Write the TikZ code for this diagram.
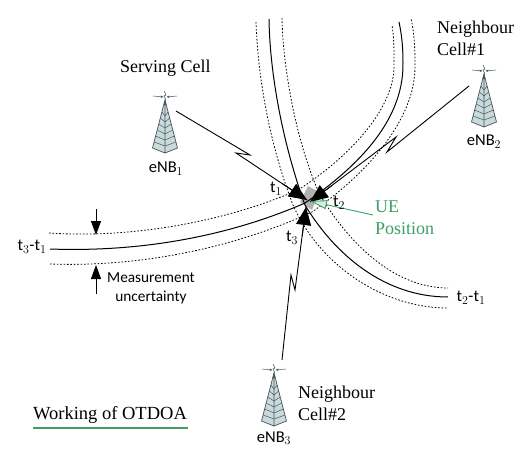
\documentclass[tikz,border=0pt]{standalone}
\usepackage{fontspec}
\setmainfont{Liberation Serif}
\newfontfamily\labelfont{Carlito}
\usetikzlibrary{arrows.meta,calc}
\definecolor{uegreen}{HTML}{3E9E66}
\definecolor{towerfill}{HTML}{C9DADD}
\definecolor{towerline}{HTML}{4A5558}
\tikzset{
  solidcurve/.style={line width=1pt,black},
  dotcurve/.style={line width=0.8pt,black,dash pattern=on 1.6pt off 1.8pt},
  link/.style={line width=0.9pt,black},
  wedge/.style={-{Triangle[length=18pt,width=15pt]}},
  serif/.style={inner sep=0pt,font=\fontsize{18}{22}\selectfont,align=left,anchor=west},
  sans/.style={inner sep=0pt,font=\labelfont\fontsize{16.5}{19}\selectfont},
  small/.style={inner sep=0pt,font=\labelfont\fontsize{15.3}{19}\selectfont,align=center},
  tower/.pic={
    \fill[towerfill] (0,0) -- (-12.5,48) -- (0,53) -- (12.5,48) -- cycle;
    \foreach \d in {12,18,24,30,36,42}{
      \draw[towerline,line width=0.5pt] ({-12.5*\d/48},\d) -- (0,\d+4) -- ({12.5*\d/48},\d);
    }
    \draw[towerline,line width=0.7pt] (0,0) -- (-12.5,48) -- (0,53) -- (12.5,48) -- cycle (0,4) -- (0,53);
    \fill[towerline] (-1.5,5) -- (0,-1) -- (1.5,5) -- cycle;
    \draw[towerline,line width=0.5pt] (-1,-9) -- (1,-5) -- (-1,-4) -- (1,0);
    \draw[towerline,line width=0.5pt,-{Stealth[length=3pt,width=2.5pt]}] (-12,-4) -- (-1.5,-3);
    \draw[towerline,line width=0.5pt,-{Stealth[length=3pt,width=2.5pt]}] (12,-4) -- (1.5,-3);
  }
}
\begin{document}
\begin{tikzpicture}[x=1pt,y=-1pt]
\useasboundingbox (0,0) rectangle (528,452);
% gray UE area
\fill[black!30!white] (308,186) -- (319,192) -- (312,210) -- (300,202) -- cycle;
% hyperbola t3-t1
\draw[solidcurve] (50,249) .. controls (130,252) and (220,240) .. (305,203)
  .. controls (350,172) and (404,125) .. (403,63) .. controls (403,48) and (402,36) .. (399,22);
\draw[dotcurve] (49,233) .. controls (120,238) and (215,226) .. (298,190)
  .. controls (345,160) and (396,110) .. (394,63) .. controls (394,48) and (394,38) .. (392,25);
\draw[dotcurve] (50,264) .. controls (130,267) and (225,252) .. (312,212)
  .. controls (365,175) and (417,120) .. (415,63) .. controls (415,46) and (414,32) .. (411,18);
% hyperbola t2-t1
\draw[solidcurve] (269,19) .. controls (270,80) and (285,150) .. (305,205)
  .. controls (335,255) and (385,297) .. (448,297);
\draw[dotcurve] (256,22) .. controls (258,80) and (270,145) .. (293,205)
  .. controls (318,262) and (380,308) .. (448,308);
\draw[dotcurve] (282,18) .. controls (283,70) and (297,145) .. (320,195)
  .. controls (350,245) and (395,288) .. (448,288);
% towers
\pic at (165,100) {tower};
\pic at (484,74) {tower};
\pic at (274,373) {tower};
% anchors
\coordinate (s1) at (176,111);
\coordinate (s1a) at (250,155);
\coordinate (s1b) at (236,153);
\coordinate (ue1) at (307,200);
\coordinate (s2) at (469,86);
\coordinate (s2a) at (387,152);
\coordinate (s2b) at (396,137);
\coordinate (ue2) at (310,202);
\coordinate (s3) at (282,360);
\coordinate (s3a) at (295,290);
\coordinate (s3b) at (291,275);
\coordinate (ue3) at (306,207);
\draw[link] (s1) -- (s1a) -- (s1b) -- (ue1);
\draw[link] (s2) -- (s2a) -- (s2b) -- (ue2);
\draw[link] (s3) -- (s3b) -- (s3a) -- (ue3);
\draw[link,wedge] ($(ue1)!0.35!(s1b)$) -- (ue1);
\draw[link,wedge] ($(ue2)!0.25!(s2b)$) -- (ue2);
\draw[link,wedge] ($(ue3)!0.35!(s3a)$) -- (ue3);
% green pointer
\coordinate (ueg) at (373,215);
\coordinate (uep) at (310,201);
\draw[uegreen,line width=0.9pt,-{Triangle[open,fill=uegreen!20,length=17pt,width=9pt]}] (ueg) -- (uep);
% measurement arrows
\coordinate (md0) at (96,209);
\coordinate (md1) at (96,235);
\coordinate (mu0) at (96,294);
\coordinate (mu1) at (96,265);
\draw[link,-{Triangle[length=14pt,width=10pt]}] (md0) -- (md1);
\draw[link,-{Triangle[length=14pt,width=10pt]}] (mu0) -- (mu1);
% texts
\node[serif] (serving) at (120,68) {Serving Cell};
\node[serif] (n1) at (437,38) {Neighbour\\Cell\#1};
\node[serif] (n2) at (298,403) {Neighbour\\Cell\#2};
\node[serif,text=uegreen] (ue) at (375,218) {UE\\Position};
\node[serif,font=\fontsize{18.5}{22}\selectfont] (work) at (33,415) {Working of OTDOA};
\coordinate (ul0) at (33,428);
\coordinate (ul1) at (188,428);
\draw[uegreen,line width=2.2pt] (ul0) -- (ul1);
\node[sans] (e1) at (166,169) {eNB$_1$};
\node[sans] (e2) at (484,142) {eNB$_2$};
\node[sans] (e3) at (274,438) {eNB$_3$};
\node[sans] (t1) at (276,189) {t$_1$};
\node[sans] (t2) at (339,203) {t$_2$};
\node[sans] (t3) at (292,238) {t$_3$};
\node[sans] (t31) at (32,247) {t$_3$-t$_1$};
\node[sans] (t21) at (471,298) {t$_2$-t$_1$};
\node[small] (mu) at (151,288) {Measurement\\uncertainty};
\end{tikzpicture}
\end{document}
